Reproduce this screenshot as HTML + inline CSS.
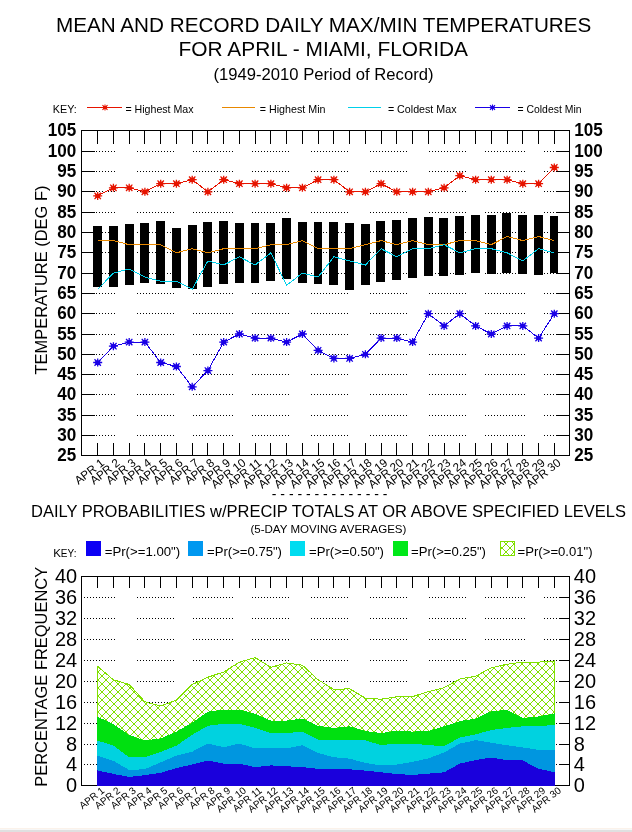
<!DOCTYPE html>
<html><head><meta charset="utf-8"><title>Miami April Temperatures</title>
<style>
html,body{margin:0;padding:0;background:#fff;}
body{width:632px;height:832px;overflow:hidden;}
svg{display:block;font-family:"Liberation Sans",Arial,sans-serif;fill:#000;}
.cr{shape-rendering:crispEdges;}
.b{font-weight:bold;}
</style></head><body>
<svg width="632" height="832" viewBox="0 0 632 832">
<defs>
<pattern id="hatch" width="8" height="8" patternUnits="userSpaceOnUse" x="97" y="671">
<path class="cr" d="M0 0h1v1h-1zM1 1h1v1h-1zM2 2h1v1h-1zM3 3h1v1h-1zM4 4h1v1h-1zM5 5h1v1h-1zM6 6h1v1h-1zM7 7h1v1h-1zM1 0h1v1h-1zM0 1h1v1h-1zM7 2h1v1h-1zM6 3h1v1h-1zM5 4h1v1h-1zM4 5h1v1h-1zM3 6h1v1h-1zM2 7h1v1h-1z" fill="#80e000"/>
</pattern>
<g id="mr"><path d="M-4.5 0H4.5M0 -4V4M-3.2 -3.2L3.2 3.2M-3.2 3.2L3.2 -3.2" stroke="#e61400" stroke-width="1.3" fill="none"/><rect x="-2.5" y="-2" width="5" height="4" fill="#e61400"/></g>
<g id="mb"><path d="M-4.5 0H4.5M0 -4V4M-3.2 -3.2L3.2 3.2M-3.2 3.2L3.2 -3.2" stroke="#1a00e6" stroke-width="1.3" fill="none"/><rect x="-2.5" y="-2" width="5" height="4" fill="#1a00e6"/></g>
</defs>
<rect width="632" height="832" fill="#fff"/>

<text x="323.65" y="31.7" font-size="20.7" text-anchor="middle" textLength="535.5" lengthAdjust="spacingAndGlyphs">MEAN AND RECORD DAILY MAX/MIN TEMPERATURES</text>
<text x="323.3" y="56" font-size="20.7" text-anchor="middle" textLength="289.5" lengthAdjust="spacingAndGlyphs">FOR APRIL - MIAMI, FLORIDA</text>
<text x="323.5" y="80" font-size="16.5" text-anchor="middle" textLength="220" lengthAdjust="spacingAndGlyphs">(1949-2010 Period of Record)</text>
<text x="52.8" y="113" font-size="11" text-anchor="start" textLength="24" lengthAdjust="spacingAndGlyphs">KEY:</text>
<path class="cr" d="M87 107.5H122" stroke="#e61400" fill="none"/><use href="#mr" transform="translate(105 107.5) scale(.8 .75)"/>
<text x="125.4" y="113" font-size="11" text-anchor="start" textLength="68.2" lengthAdjust="spacingAndGlyphs">= Highest Max</text>
<path class="cr" d="M221.5 107.5H254.5" stroke="#e88800" fill="none"/>
<text x="259.7" y="113" font-size="11" text-anchor="start" textLength="65.8" lengthAdjust="spacingAndGlyphs">= Highest Min</text>
<path class="cr" d="M347.5 107.5H381" stroke="#00d0ea" fill="none"/>
<text x="387.9" y="113" font-size="11" text-anchor="start" textLength="68.6" lengthAdjust="spacingAndGlyphs">= Coldest Max</text>
<path class="cr" d="M475 107.5H510" stroke="#1a00e6" fill="none"/><use href="#mb" transform="translate(492.5 107.5) scale(.8 .75)"/>
<text x="517.5" y="113" font-size="11" text-anchor="start" textLength="64" lengthAdjust="spacingAndGlyphs">= Coldest Min</text>
<path class="cr" d="M96 435.5H115M137 435.5H174M193 435.5H233M252 435.5H290M311 435.5H349M370 435.5H408M429 435.5H467M485 435.5H526M544 435.5H556" stroke="#000" stroke-dasharray="1 2" fill="none"/>
<path class="cr" d="M81.5 435.5H95M556 435.5H569.5" stroke="#000" fill="none"/>
<path class="cr" d="M96 415.5H115M137 415.5H174M193 415.5H233M252 415.5H290M311 415.5H349M370 415.5H408M429 415.5H467M485 415.5H526M544 415.5H556" stroke="#000" stroke-dasharray="1 2" fill="none"/>
<path class="cr" d="M81.5 415.5H95M556 415.5H569.5" stroke="#000" fill="none"/>
<path class="cr" d="M96 394.5H115M137 394.5H174M193 394.5H233M252 394.5H290M311 394.5H349M370 394.5H408M429 394.5H467M485 394.5H526M544 394.5H556" stroke="#000" stroke-dasharray="1 2" fill="none"/>
<path class="cr" d="M81.5 394.5H95M556 394.5H569.5" stroke="#000" fill="none"/>
<path class="cr" d="M96 374.5H115M137 374.5H174M193 374.5H233M252 374.5H290M311 374.5H349M370 374.5H408M429 374.5H467M485 374.5H526M544 374.5H556" stroke="#000" stroke-dasharray="1 2" fill="none"/>
<path class="cr" d="M81.5 374.5H95M556 374.5H569.5" stroke="#000" fill="none"/>
<path class="cr" d="M96 354.5H115M137 354.5H174M193 354.5H233M252 354.5H290M311 354.5H349M370 354.5H408M429 354.5H467M485 354.5H526M544 354.5H556" stroke="#000" stroke-dasharray="1 2" fill="none"/>
<path class="cr" d="M81.5 354.5H95M556 354.5H569.5" stroke="#000" fill="none"/>
<path class="cr" d="M96 334.5H115M137 334.5H174M193 334.5H233M252 334.5H290M311 334.5H349M370 334.5H408M429 334.5H467M485 334.5H526M544 334.5H556" stroke="#000" stroke-dasharray="1 2" fill="none"/>
<path class="cr" d="M81.5 334.5H95M556 334.5H569.5" stroke="#000" fill="none"/>
<path class="cr" d="M96 313.5H115M137 313.5H174M193 313.5H233M252 313.5H290M311 313.5H349M370 313.5H408M429 313.5H467M485 313.5H526M544 313.5H556" stroke="#000" stroke-dasharray="1 2" fill="none"/>
<path class="cr" d="M81.5 313.5H95M556 313.5H569.5" stroke="#000" fill="none"/>
<path class="cr" d="M96 293.5H115M137 293.5H174M193 293.5H233M252 293.5H290M311 293.5H349M370 293.5H408M429 293.5H467M485 293.5H526M544 293.5H556" stroke="#000" stroke-dasharray="1 2" fill="none"/>
<path class="cr" d="M81.5 293.5H95M556 293.5H569.5" stroke="#000" fill="none"/>
<path class="cr" d="M96 273.5H115M137 273.5H174M193 273.5H233M252 273.5H290M311 273.5H349M370 273.5H408M429 273.5H467M485 273.5H526M544 273.5H556" stroke="#000" stroke-dasharray="1 2" fill="none"/>
<path class="cr" d="M81.5 273.5H95M556 273.5H569.5" stroke="#000" fill="none"/>
<path class="cr" d="M96 252.5H115M137 252.5H174M193 252.5H233M252 252.5H290M311 252.5H349M370 252.5H408M429 252.5H467M485 252.5H526M544 252.5H556" stroke="#000" stroke-dasharray="1 2" fill="none"/>
<path class="cr" d="M81.5 252.5H95M556 252.5H569.5" stroke="#000" fill="none"/>
<path class="cr" d="M96 232.5H115M137 232.5H174M193 232.5H233M252 232.5H290M311 232.5H349M370 232.5H408M429 232.5H467M485 232.5H526M544 232.5H556" stroke="#000" stroke-dasharray="1 2" fill="none"/>
<path class="cr" d="M81.5 232.5H95M556 232.5H569.5" stroke="#000" fill="none"/>
<path class="cr" d="M96 212.5H115M137 212.5H174M193 212.5H233M252 212.5H290M311 212.5H349M370 212.5H408M429 212.5H467M485 212.5H526M544 212.5H556" stroke="#000" stroke-dasharray="1 2" fill="none"/>
<path class="cr" d="M81.5 212.5H95M556 212.5H569.5" stroke="#000" fill="none"/>
<path class="cr" d="M96 191.5H115M137 191.5H174M193 191.5H233M252 191.5H290M311 191.5H349M370 191.5H408M429 191.5H467M485 191.5H526M544 191.5H556" stroke="#000" stroke-dasharray="1 2" fill="none"/>
<path class="cr" d="M81.5 191.5H95M556 191.5H569.5" stroke="#000" fill="none"/>
<path class="cr" d="M96 171.5H115M137 171.5H174M193 171.5H233M252 171.5H290M311 171.5H349M370 171.5H408M429 171.5H467M485 171.5H526M544 171.5H556" stroke="#000" stroke-dasharray="1 2" fill="none"/>
<path class="cr" d="M81.5 171.5H95M556 171.5H569.5" stroke="#000" fill="none"/>
<path class="cr" d="M96 151.5H115M137 151.5H174M193 151.5H233M252 151.5H290M311 151.5H349M370 151.5H408M429 151.5H467M485 151.5H526M544 151.5H556" stroke="#000" stroke-dasharray="1 2" fill="none"/>
<path class="cr" d="M81.5 151.5H95M556 151.5H569.5" stroke="#000" fill="none"/>
<rect class="cr" x="93" y="226" width="9" height="61" fill="#000"/>
<rect class="cr" x="109" y="226" width="9" height="61" fill="#000"/>
<rect class="cr" x="125" y="224" width="9" height="61" fill="#000"/>
<rect class="cr" x="140" y="223" width="9" height="60" fill="#000"/>
<rect class="cr" x="156" y="221" width="9" height="63" fill="#000"/>
<rect class="cr" x="172" y="228" width="9" height="60" fill="#000"/>
<rect class="cr" x="188" y="225" width="9" height="64" fill="#000"/>
<rect class="cr" x="203" y="222" width="9" height="65" fill="#000"/>
<rect class="cr" x="219" y="221" width="9" height="63" fill="#000"/>
<rect class="cr" x="235" y="223" width="9" height="60" fill="#000"/>
<rect class="cr" x="251" y="223" width="8" height="60" fill="#000"/>
<rect class="cr" x="266" y="223" width="9" height="58" fill="#000"/>
<rect class="cr" x="282" y="218" width="9" height="61" fill="#000"/>
<rect class="cr" x="298" y="222" width="9" height="61" fill="#000"/>
<rect class="cr" x="314" y="222" width="8" height="62" fill="#000"/>
<rect class="cr" x="329" y="222" width="9" height="63" fill="#000"/>
<rect class="cr" x="345" y="223" width="9" height="67" fill="#000"/>
<rect class="cr" x="361" y="224" width="9" height="61" fill="#000"/>
<rect class="cr" x="376" y="221" width="9" height="61" fill="#000"/>
<rect class="cr" x="392" y="220" width="9" height="60" fill="#000"/>
<rect class="cr" x="408" y="218" width="9" height="60" fill="#000"/>
<rect class="cr" x="424" y="217" width="9" height="59" fill="#000"/>
<rect class="cr" x="439" y="218" width="9" height="58" fill="#000"/>
<rect class="cr" x="455" y="216" width="9" height="59" fill="#000"/>
<rect class="cr" x="471" y="215" width="9" height="58" fill="#000"/>
<rect class="cr" x="487" y="215" width="9" height="59" fill="#000"/>
<rect class="cr" x="502" y="213" width="9" height="60" fill="#000"/>
<rect class="cr" x="518" y="215" width="9" height="59" fill="#000"/>
<rect class="cr" x="534" y="215" width="9" height="60" fill="#000"/>
<rect class="cr" x="550" y="216" width="8" height="57" fill="#000"/>
<polyline class="cr" points="97.7,240.6 113.4,240.6 129.2,244.7 144.9,244.7 160.7,244.7 176.4,252.8 192.2,248.7 207.9,252.8 223.7,248.7 239.4,248.7 255.1,248.7 270.9,244.7 286.6,244.7 302.4,240.6 318.1,248.7 333.9,248.7 349.6,248.7 365.4,244.7 381.1,240.6 396.8,244.7 412.6,240.6 428.3,244.7 444.1,244.7 459.8,240.6 475.6,240.6 491.3,244.7 507.1,236.5 522.8,240.6 538.6,236.5 554.3,240.6" stroke="#e88800" stroke-width="1" fill="none"/>
<polyline class="cr" points="97.7,289.3 113.4,273.1 129.2,269.0 144.9,277.1 160.7,281.2 176.4,281.2 192.2,289.3 207.9,260.9 223.7,265.0 239.4,256.8 255.1,265.0 270.9,252.8 286.6,285.3 302.4,273.1 318.1,277.1 333.9,256.8 349.6,260.9 365.4,265.0 381.1,248.7 396.8,256.8 412.6,248.7 428.3,248.7 444.1,244.7 459.8,252.8 475.6,248.7 491.3,248.7 507.1,252.8 522.8,260.9 538.6,248.7 554.3,252.8" stroke="#00d0ea" stroke-width="1" fill="none"/>
<polyline class="cr" points="97.7,195.9 113.4,187.8 129.2,187.8 144.9,191.8 160.7,183.7 176.4,183.7 192.2,179.7 207.9,191.8 223.7,179.7 239.4,183.7 255.1,183.7 270.9,183.7 286.6,187.8 302.4,187.8 318.1,179.7 333.9,179.7 349.6,191.8 365.4,191.8 381.1,183.7 396.8,191.8 412.6,191.8 428.3,191.8 444.1,187.8 459.8,175.6 475.6,179.7 491.3,179.7 507.1,179.7 522.8,183.7 538.6,183.7 554.3,167.5" stroke="#e61400" stroke-width="1" fill="none"/>
<polyline class="cr" points="97.7,362.5 113.4,346.2 129.2,342.1 144.9,342.1 160.7,362.5 176.4,366.5 192.2,386.8 207.9,370.6 223.7,342.1 239.4,334.0 255.1,338.1 270.9,338.1 286.6,342.1 302.4,334.0 318.1,350.3 333.9,358.4 349.6,358.4 365.4,354.3 381.1,338.1 396.8,338.1 412.6,342.1 428.3,313.7 444.1,325.9 459.8,313.7 475.6,325.9 491.3,334.0 507.1,325.9 522.8,325.9 538.6,338.1 554.3,313.7" stroke="#1a00e6" stroke-width="1" fill="none"/>
<use href="#mr" x="97.7" y="195.9"/>
<use href="#mr" x="113.4" y="187.8"/>
<use href="#mr" x="129.2" y="187.8"/>
<use href="#mr" x="144.9" y="191.8"/>
<use href="#mr" x="160.7" y="183.7"/>
<use href="#mr" x="176.4" y="183.7"/>
<use href="#mr" x="192.2" y="179.7"/>
<use href="#mr" x="207.9" y="191.8"/>
<use href="#mr" x="223.7" y="179.7"/>
<use href="#mr" x="239.4" y="183.7"/>
<use href="#mr" x="255.1" y="183.7"/>
<use href="#mr" x="270.9" y="183.7"/>
<use href="#mr" x="286.6" y="187.8"/>
<use href="#mr" x="302.4" y="187.8"/>
<use href="#mr" x="318.1" y="179.7"/>
<use href="#mr" x="333.9" y="179.7"/>
<use href="#mr" x="349.6" y="191.8"/>
<use href="#mr" x="365.4" y="191.8"/>
<use href="#mr" x="381.1" y="183.7"/>
<use href="#mr" x="396.8" y="191.8"/>
<use href="#mr" x="412.6" y="191.8"/>
<use href="#mr" x="428.3" y="191.8"/>
<use href="#mr" x="444.1" y="187.8"/>
<use href="#mr" x="459.8" y="175.6"/>
<use href="#mr" x="475.6" y="179.7"/>
<use href="#mr" x="491.3" y="179.7"/>
<use href="#mr" x="507.1" y="179.7"/>
<use href="#mr" x="522.8" y="183.7"/>
<use href="#mr" x="538.6" y="183.7"/>
<use href="#mr" x="554.3" y="167.5"/>
<use href="#mb" x="97.7" y="362.5"/>
<use href="#mb" x="113.4" y="346.2"/>
<use href="#mb" x="129.2" y="342.1"/>
<use href="#mb" x="144.9" y="342.1"/>
<use href="#mb" x="160.7" y="362.5"/>
<use href="#mb" x="176.4" y="366.5"/>
<use href="#mb" x="192.2" y="386.8"/>
<use href="#mb" x="207.9" y="370.6"/>
<use href="#mb" x="223.7" y="342.1"/>
<use href="#mb" x="239.4" y="334.0"/>
<use href="#mb" x="255.1" y="338.1"/>
<use href="#mb" x="270.9" y="338.1"/>
<use href="#mb" x="286.6" y="342.1"/>
<use href="#mb" x="302.4" y="334.0"/>
<use href="#mb" x="318.1" y="350.3"/>
<use href="#mb" x="333.9" y="358.4"/>
<use href="#mb" x="349.6" y="358.4"/>
<use href="#mb" x="365.4" y="354.3"/>
<use href="#mb" x="381.1" y="338.1"/>
<use href="#mb" x="396.8" y="338.1"/>
<use href="#mb" x="412.6" y="342.1"/>
<use href="#mb" x="428.3" y="313.7"/>
<use href="#mb" x="444.1" y="325.9"/>
<use href="#mb" x="459.8" y="313.7"/>
<use href="#mb" x="475.6" y="325.9"/>
<use href="#mb" x="491.3" y="334.0"/>
<use href="#mb" x="507.1" y="325.9"/>
<use href="#mb" x="522.8" y="325.9"/>
<use href="#mb" x="538.6" y="338.1"/>
<use href="#mb" x="554.3" y="313.7"/>
<rect class="cr" x="81.5" y="130.5" width="488.0" height="325.0" fill="none" stroke="#000"/>
<path class="cr" d="M97.5 130.5V143.5M97.5 455.5V442.5M113.5 130.5V143.5M113.5 455.5V442.5M129.5 130.5V143.5M129.5 455.5V442.5M144.5 130.5V143.5M144.5 455.5V442.5M160.5 130.5V143.5M160.5 455.5V442.5M176.5 130.5V143.5M176.5 455.5V442.5M192.5 130.5V143.5M192.5 455.5V442.5M207.5 130.5V143.5M207.5 455.5V442.5M223.5 130.5V143.5M223.5 455.5V442.5M239.5 130.5V143.5M239.5 455.5V442.5M255.5 130.5V143.5M255.5 455.5V442.5M270.5 130.5V143.5M270.5 455.5V442.5M286.5 130.5V143.5M286.5 455.5V442.5M302.5 130.5V143.5M302.5 455.5V442.5M318.5 130.5V143.5M318.5 455.5V442.5M333.5 130.5V143.5M333.5 455.5V442.5M349.5 130.5V143.5M349.5 455.5V442.5M365.5 130.5V143.5M365.5 455.5V442.5M381.5 130.5V143.5M381.5 455.5V442.5M396.5 130.5V143.5M396.5 455.5V442.5M412.5 130.5V143.5M412.5 455.5V442.5M428.5 130.5V143.5M428.5 455.5V442.5M444.5 130.5V143.5M444.5 455.5V442.5M459.5 130.5V143.5M459.5 455.5V442.5M475.5 130.5V143.5M475.5 455.5V442.5M491.5 130.5V143.5M491.5 455.5V442.5M507.5 130.5V143.5M507.5 455.5V442.5M522.5 130.5V143.5M522.5 455.5V442.5M538.5 130.5V143.5M538.5 455.5V442.5M554.5 130.5V143.5M554.5 455.5V442.5" stroke="#000" fill="none"/>
<text x="76.3" y="460.5" font-size="17.6" text-anchor="end" class="b" textLength="19.0" lengthAdjust="spacingAndGlyphs">25</text>
<text x="574.3" y="460.5" font-size="17.6" text-anchor="start" class="b" textLength="19.0" lengthAdjust="spacingAndGlyphs">25</text>
<text x="76.3" y="440.5" font-size="17.6" text-anchor="end" class="b" textLength="19.0" lengthAdjust="spacingAndGlyphs">30</text>
<text x="574.3" y="440.5" font-size="17.6" text-anchor="start" class="b" textLength="19.0" lengthAdjust="spacingAndGlyphs">30</text>
<text x="76.3" y="420.5" font-size="17.6" text-anchor="end" class="b" textLength="19.0" lengthAdjust="spacingAndGlyphs">35</text>
<text x="574.3" y="420.5" font-size="17.6" text-anchor="start" class="b" textLength="19.0" lengthAdjust="spacingAndGlyphs">35</text>
<text x="76.3" y="399.5" font-size="17.6" text-anchor="end" class="b" textLength="19.0" lengthAdjust="spacingAndGlyphs">40</text>
<text x="574.3" y="399.5" font-size="17.6" text-anchor="start" class="b" textLength="19.0" lengthAdjust="spacingAndGlyphs">40</text>
<text x="76.3" y="379.5" font-size="17.6" text-anchor="end" class="b" textLength="19.0" lengthAdjust="spacingAndGlyphs">45</text>
<text x="574.3" y="379.5" font-size="17.6" text-anchor="start" class="b" textLength="19.0" lengthAdjust="spacingAndGlyphs">45</text>
<text x="76.3" y="359.5" font-size="17.6" text-anchor="end" class="b" textLength="19.0" lengthAdjust="spacingAndGlyphs">50</text>
<text x="574.3" y="359.5" font-size="17.6" text-anchor="start" class="b" textLength="19.0" lengthAdjust="spacingAndGlyphs">50</text>
<text x="76.3" y="339.5" font-size="17.6" text-anchor="end" class="b" textLength="19.0" lengthAdjust="spacingAndGlyphs">55</text>
<text x="574.3" y="339.5" font-size="17.6" text-anchor="start" class="b" textLength="19.0" lengthAdjust="spacingAndGlyphs">55</text>
<text x="76.3" y="318.5" font-size="17.6" text-anchor="end" class="b" textLength="19.0" lengthAdjust="spacingAndGlyphs">60</text>
<text x="574.3" y="318.5" font-size="17.6" text-anchor="start" class="b" textLength="19.0" lengthAdjust="spacingAndGlyphs">60</text>
<text x="76.3" y="298.5" font-size="17.6" text-anchor="end" class="b" textLength="19.0" lengthAdjust="spacingAndGlyphs">65</text>
<text x="574.3" y="298.5" font-size="17.6" text-anchor="start" class="b" textLength="19.0" lengthAdjust="spacingAndGlyphs">65</text>
<text x="76.3" y="278.5" font-size="17.6" text-anchor="end" class="b" textLength="19.0" lengthAdjust="spacingAndGlyphs">70</text>
<text x="574.3" y="278.5" font-size="17.6" text-anchor="start" class="b" textLength="19.0" lengthAdjust="spacingAndGlyphs">70</text>
<text x="76.3" y="257.5" font-size="17.6" text-anchor="end" class="b" textLength="19.0" lengthAdjust="spacingAndGlyphs">75</text>
<text x="574.3" y="257.5" font-size="17.6" text-anchor="start" class="b" textLength="19.0" lengthAdjust="spacingAndGlyphs">75</text>
<text x="76.3" y="237.5" font-size="17.6" text-anchor="end" class="b" textLength="19.0" lengthAdjust="spacingAndGlyphs">80</text>
<text x="574.3" y="237.5" font-size="17.6" text-anchor="start" class="b" textLength="19.0" lengthAdjust="spacingAndGlyphs">80</text>
<text x="76.3" y="217.5" font-size="17.6" text-anchor="end" class="b" textLength="19.0" lengthAdjust="spacingAndGlyphs">85</text>
<text x="574.3" y="217.5" font-size="17.6" text-anchor="start" class="b" textLength="19.0" lengthAdjust="spacingAndGlyphs">85</text>
<text x="76.3" y="196.5" font-size="17.6" text-anchor="end" class="b" textLength="19.0" lengthAdjust="spacingAndGlyphs">90</text>
<text x="574.3" y="196.5" font-size="17.6" text-anchor="start" class="b" textLength="19.0" lengthAdjust="spacingAndGlyphs">90</text>
<text x="76.3" y="176.5" font-size="17.6" text-anchor="end" class="b" textLength="19.0" lengthAdjust="spacingAndGlyphs">95</text>
<text x="574.3" y="176.5" font-size="17.6" text-anchor="start" class="b" textLength="19.0" lengthAdjust="spacingAndGlyphs">95</text>
<text x="76.3" y="156.5" font-size="17.6" text-anchor="end" class="b" textLength="28.5" lengthAdjust="spacingAndGlyphs">100</text>
<text x="574.3" y="156.5" font-size="17.6" text-anchor="start" class="b" textLength="28.5" lengthAdjust="spacingAndGlyphs">100</text>
<text x="76.3" y="135.5" font-size="17.6" text-anchor="end" class="b" textLength="28.5" lengthAdjust="spacingAndGlyphs">105</text>
<text x="574.3" y="135.5" font-size="17.6" text-anchor="start" class="b" textLength="28.5" lengthAdjust="spacingAndGlyphs">105</text>
<text transform="translate(46.8 374.5) rotate(-90)" font-size="16.5" textLength="189" lengthAdjust="spacingAndGlyphs">TEMPERATURE (DEG F)</text>
<text transform="translate(105.0 464.3) rotate(-38)" font-size="11.7" text-anchor="end">APR 1</text>
<text transform="translate(120.7 464.3) rotate(-38)" font-size="11.7" text-anchor="end">APR 2</text>
<text transform="translate(136.5 464.3) rotate(-38)" font-size="11.7" text-anchor="end">APR 3</text>
<text transform="translate(152.2 464.3) rotate(-38)" font-size="11.7" text-anchor="end">APR 4</text>
<text transform="translate(168.0 464.3) rotate(-38)" font-size="11.7" text-anchor="end">APR 5</text>
<text transform="translate(183.7 464.3) rotate(-38)" font-size="11.7" text-anchor="end">APR 6</text>
<text transform="translate(199.5 464.3) rotate(-38)" font-size="11.7" text-anchor="end">APR 7</text>
<text transform="translate(215.2 464.3) rotate(-38)" font-size="11.7" text-anchor="end">APR 8</text>
<text transform="translate(231.0 464.3) rotate(-38)" font-size="11.7" text-anchor="end">APR 9</text>
<text transform="translate(246.7 464.3) rotate(-38)" font-size="11.7" text-anchor="end">APR 10</text>
<text transform="translate(262.4 464.3) rotate(-38)" font-size="11.7" text-anchor="end">APR 11</text>
<text transform="translate(278.2 464.3) rotate(-38)" font-size="11.7" text-anchor="end">APR 12</text>
<text transform="translate(293.9 464.3) rotate(-38)" font-size="11.7" text-anchor="end">APR 13</text>
<text transform="translate(309.7 464.3) rotate(-38)" font-size="11.7" text-anchor="end">APR 14</text>
<text transform="translate(325.4 464.3) rotate(-38)" font-size="11.7" text-anchor="end">APR 15</text>
<text transform="translate(341.2 464.3) rotate(-38)" font-size="11.7" text-anchor="end">APR 16</text>
<text transform="translate(356.9 464.3) rotate(-38)" font-size="11.7" text-anchor="end">APR 17</text>
<text transform="translate(372.7 464.3) rotate(-38)" font-size="11.7" text-anchor="end">APR 18</text>
<text transform="translate(388.4 464.3) rotate(-38)" font-size="11.7" text-anchor="end">APR 19</text>
<text transform="translate(404.1 464.3) rotate(-38)" font-size="11.7" text-anchor="end">APR 20</text>
<text transform="translate(419.9 464.3) rotate(-38)" font-size="11.7" text-anchor="end">APR 21</text>
<text transform="translate(435.6 464.3) rotate(-38)" font-size="11.7" text-anchor="end">APR 22</text>
<text transform="translate(451.4 464.3) rotate(-38)" font-size="11.7" text-anchor="end">APR 23</text>
<text transform="translate(467.1 464.3) rotate(-38)" font-size="11.7" text-anchor="end">APR 24</text>
<text transform="translate(482.9 464.3) rotate(-38)" font-size="11.7" text-anchor="end">APR 25</text>
<text transform="translate(498.6 464.3) rotate(-38)" font-size="11.7" text-anchor="end">APR 26</text>
<text transform="translate(514.4 464.3) rotate(-38)" font-size="11.7" text-anchor="end">APR 27</text>
<text transform="translate(530.1 464.3) rotate(-38)" font-size="11.7" text-anchor="end">APR 28</text>
<text transform="translate(545.9 464.3) rotate(-38)" font-size="11.7" text-anchor="end">APR 29</text>
<text transform="translate(561.6 464.3) rotate(-38)" font-size="11.7" text-anchor="end">APR 30</text>
<text x="329.6" y="498.5" font-size="14" text-anchor="middle" textLength="115.5" lengthAdjust="spacingAndGlyphs">- - - - - - - - - - - - - -</text>
<text x="328.5" y="516.5" font-size="16.5" text-anchor="middle" textLength="595" lengthAdjust="spacingAndGlyphs">DAILY PROBABILITIES w/PRECIP TOTALS AT OR ABOVE SPECIFIED LEVELS</text>
<text x="328.4" y="533.3" font-size="11.8" text-anchor="middle" textLength="156" lengthAdjust="spacingAndGlyphs">(5-DAY MOVING AVERAGES)</text>
<text x="53.2" y="556.5" font-size="11.5" textLength="23.3" lengthAdjust="spacingAndGlyphs">K<tspan font-size="10">EY:</tspan></text>
<rect class="cr" x="86" y="541" width="15" height="15" fill="#0c00f4"/>
<text x="104.7" y="555.9" font-size="13.3" text-anchor="start" textLength="75.5" lengthAdjust="spacingAndGlyphs">=Pr(&gt;=1.00")</text>
<rect class="cr" x="188" y="541" width="15" height="15" fill="#0098f0"/>
<text x="207.0" y="555.9" font-size="13.3" text-anchor="start" textLength="75" lengthAdjust="spacingAndGlyphs">=Pr(&gt;=0.75")</text>
<rect class="cr" x="290" y="541" width="15" height="15" fill="#00dcf0"/>
<text x="309.0" y="555.9" font-size="13.3" text-anchor="start" textLength="75" lengthAdjust="spacingAndGlyphs">=Pr(&gt;=0.50")</text>
<rect class="cr" x="393" y="541" width="15" height="15" fill="#00e818"/>
<text x="411.0" y="555.9" font-size="13.3" text-anchor="start" textLength="75" lengthAdjust="spacingAndGlyphs">=Pr(&gt;=0.25")</text>
<rect class="cr" x="500.5" y="541.5" width="14" height="14" fill="#fff"/><rect class="cr" x="500.5" y="541.5" width="14" height="14" fill="url(#hatch)" stroke="#80e000"/>
<text x="517.6" y="555.9" font-size="13.3" text-anchor="start" textLength="75" lengthAdjust="spacingAndGlyphs">=Pr(&gt;=0.01")</text>
<path class="cr" d="M84 764.5H115M137 764.5H174M193 764.5H233M252 764.5H290M311 764.5H349M370 764.5H408M429 764.5H467M485 764.5H526M544 764.5H559" stroke="#000" stroke-dasharray="1 2" fill="none"/>
<path class="cr" d="M84 744.5H115M137 744.5H174M193 744.5H233M252 744.5H290M311 744.5H349M370 744.5H408M429 744.5H467M485 744.5H526M544 744.5H559" stroke="#000" stroke-dasharray="1 2" fill="none"/>
<path class="cr" d="M84 723.5H115M137 723.5H174M193 723.5H233M252 723.5H290M311 723.5H349M370 723.5H408M429 723.5H467M485 723.5H526M544 723.5H559" stroke="#000" stroke-dasharray="1 2" fill="none"/>
<path class="cr" d="M84 702.5H115M137 702.5H174M193 702.5H233M252 702.5H290M311 702.5H349M370 702.5H408M429 702.5H467M485 702.5H526M544 702.5H559" stroke="#000" stroke-dasharray="1 2" fill="none"/>
<path class="cr" d="M84 681.5H115M137 681.5H174M193 681.5H233M252 681.5H290M311 681.5H349M370 681.5H408M429 681.5H467M485 681.5H526M544 681.5H559" stroke="#000" stroke-dasharray="1 2" fill="none"/>
<path class="cr" d="M84 660.5H115M137 660.5H174M193 660.5H233M252 660.5H290M311 660.5H349M370 660.5H408M429 660.5H467M485 660.5H526M544 660.5H559" stroke="#000" stroke-dasharray="1 2" fill="none"/>
<path class="cr" d="M84 639.5H115M137 639.5H174M193 639.5H233M252 639.5H290M311 639.5H349M370 639.5H408M429 639.5H467M485 639.5H526M544 639.5H559" stroke="#000" stroke-dasharray="1 2" fill="none"/>
<path class="cr" d="M84 618.5H115M137 618.5H174M193 618.5H233M252 618.5H290M311 618.5H349M370 618.5H408M429 618.5H467M485 618.5H526M544 618.5H559" stroke="#000" stroke-dasharray="1 2" fill="none"/>
<path class="cr" d="M84 597.5H115M137 597.5H174M193 597.5H233M252 597.5H290M311 597.5H349M370 597.5H408M429 597.5H467M485 597.5H526M544 597.5H559" stroke="#000" stroke-dasharray="1 2" fill="none"/>
<rect class="cr" x="81.5" y="576.5" width="488.0" height="209.0" fill="none" stroke="#000"/>
<polygon class="cr" points="97.0,786 97.0,666.2 113.4,679.8 129.2,684.5 144.9,701.8 160.7,706.0 176.4,700.2 192.2,684.5 207.9,677.2 223.7,672.0 239.4,662.1 255.1,657.6 270.9,667.3 286.6,662.9 302.4,665.2 318.1,679.8 333.9,689.5 349.6,688.7 365.4,698.1 381.1,699.2 396.8,696.8 412.6,696.6 428.3,691.6 444.1,687.7 459.8,679.0 475.6,676.2 491.3,667.8 507.1,664.2 522.8,662.1 538.6,662.1 555.0,661.0 555.0,786" fill="#fff"/>
<polygon class="cr" points="97.5,785.5 97.5,666.2 113.4,679.8 129.2,684.5 144.9,701.8 160.7,706.0 176.4,700.2 192.2,684.5 207.9,677.2 223.7,672.0 239.4,662.1 255.1,657.6 270.9,667.3 286.6,662.9 302.4,665.2 318.1,679.8 333.9,689.5 349.6,688.7 365.4,698.1 381.1,699.2 396.8,696.8 412.6,696.6 428.3,691.6 444.1,687.7 459.8,679.0 475.6,676.2 491.3,667.8 507.1,664.2 522.8,662.1 538.6,662.1 554.5,661.0 554.5,785.5" fill="url(#hatch)" stroke="#80e000"/>
<polygon class="cr" points="97.0,786 97.0,716.4 113.4,724.2 129.2,735.0 144.9,740.4 160.7,738.4 176.4,731.6 192.2,722.7 207.9,711.7 223.7,709.6 239.4,709.6 255.1,713.8 270.9,720.6 286.6,720.6 302.4,718.5 318.1,725.8 333.9,727.9 349.6,726.3 365.4,731.0 381.1,733.1 396.8,730.5 412.6,731.6 428.3,731.0 444.1,726.3 459.8,721.1 475.6,718.5 491.3,711.2 507.1,709.9 522.8,718.0 538.6,716.4 555.0,713.3 555.0,786" fill="#00e010"/>
<polygon class="cr" points="97.0,786 97.0,740.4 113.4,745.7 129.2,757.2 144.9,757.2 160.7,751.9 176.4,745.7 192.2,734.7 207.9,725.8 223.7,723.7 239.4,723.7 255.1,727.9 270.9,733.1 286.6,733.1 302.4,731.6 318.1,739.6 333.9,740.4 349.6,740.4 365.4,740.4 381.1,745.1 396.8,743.6 412.6,743.6 428.3,745.1 444.1,746.2 459.8,737.5 475.6,734.4 491.3,730.0 507.1,727.9 522.8,726.3 538.6,726.3 555.0,724.8 555.0,786" fill="#00d2e0"/>
<polygon class="cr" points="97.0,786 97.0,755.6 113.4,760.8 129.2,770.0 144.9,769.2 160.7,762.4 176.4,755.6 192.2,751.7 207.9,743.6 223.7,747.2 239.4,743.6 255.1,748.3 270.9,748.3 286.6,748.3 302.4,745.3 318.1,753.1 333.9,757.2 349.6,758.7 365.4,762.9 381.1,765.4 396.8,764.5 412.6,761.9 428.3,758.4 444.1,752.5 459.8,743.6 475.6,740.2 491.3,742.7 507.1,745.3 522.8,747.4 538.6,750.0 555.0,750.0 555.0,786" fill="#0096e0"/>
<polygon class="cr" points="97.0,786 97.0,770.4 113.4,773.9 129.2,777.0 144.9,775.1 160.7,772.8 176.4,768.1 192.2,764.5 207.9,760.5 223.7,763.6 239.4,763.6 255.1,767.1 270.9,765.4 286.6,766.3 302.4,767.1 318.1,768.8 333.9,768.8 349.6,769.3 365.4,770.6 381.1,772.3 396.8,774.1 412.6,774.9 428.3,773.7 444.1,772.3 459.8,763.6 475.6,760.1 491.3,757.5 507.1,760.1 522.8,760.5 538.6,768.8 555.0,772.3 555.0,786" fill="#1a00dc"/>
<path class="cr" d="M97.5 576.5V587.5M113.5 576.5V587.5M129.5 576.5V587.5M144.5 576.5V587.5M160.5 576.5V587.5M176.5 576.5V587.5M192.5 576.5V587.5M207.5 576.5V587.5M223.5 576.5V587.5M239.5 576.5V587.5M255.5 576.5V587.5M270.5 576.5V587.5M286.5 576.5V587.5M302.5 576.5V587.5M318.5 576.5V587.5M333.5 576.5V587.5M349.5 576.5V587.5M365.5 576.5V587.5M381.5 576.5V587.5M396.5 576.5V587.5M412.5 576.5V587.5M428.5 576.5V587.5M444.5 576.5V587.5M459.5 576.5V587.5M475.5 576.5V587.5M491.5 576.5V587.5M507.5 576.5V587.5M522.5 576.5V587.5M538.5 576.5V587.5M554.5 576.5V587.5M559 764.5H569.5M559 744.5H569.5M559 723.5H569.5M559 702.5H569.5M559 681.5H569.5M559 660.5H569.5M559 639.5H569.5M559 618.5H569.5M559 597.5H569.5" stroke="#000" fill="none"/>
<text x="77.2" y="791.7" font-size="20" text-anchor="end" textLength="11.1" lengthAdjust="spacingAndGlyphs">0</text>
<text x="573.8" y="791.7" font-size="20" text-anchor="start" textLength="11.1" lengthAdjust="spacingAndGlyphs">0</text>
<text x="77.2" y="770.7" font-size="20" text-anchor="end" textLength="11.1" lengthAdjust="spacingAndGlyphs">4</text>
<text x="573.8" y="770.7" font-size="20" text-anchor="start" textLength="11.1" lengthAdjust="spacingAndGlyphs">4</text>
<text x="77.2" y="750.7" font-size="20" text-anchor="end" textLength="11.1" lengthAdjust="spacingAndGlyphs">8</text>
<text x="573.8" y="750.7" font-size="20" text-anchor="start" textLength="11.1" lengthAdjust="spacingAndGlyphs">8</text>
<text x="77.2" y="729.7" font-size="20" text-anchor="end" textLength="22.2" lengthAdjust="spacingAndGlyphs">12</text>
<text x="573.8" y="729.7" font-size="20" text-anchor="start" textLength="22.2" lengthAdjust="spacingAndGlyphs">12</text>
<text x="77.2" y="708.7" font-size="20" text-anchor="end" textLength="22.2" lengthAdjust="spacingAndGlyphs">16</text>
<text x="573.8" y="708.7" font-size="20" text-anchor="start" textLength="22.2" lengthAdjust="spacingAndGlyphs">16</text>
<text x="77.2" y="687.7" font-size="20" text-anchor="end" textLength="22.2" lengthAdjust="spacingAndGlyphs">20</text>
<text x="573.8" y="687.7" font-size="20" text-anchor="start" textLength="22.2" lengthAdjust="spacingAndGlyphs">20</text>
<text x="77.2" y="666.7" font-size="20" text-anchor="end" textLength="22.2" lengthAdjust="spacingAndGlyphs">24</text>
<text x="573.8" y="666.7" font-size="20" text-anchor="start" textLength="22.2" lengthAdjust="spacingAndGlyphs">24</text>
<text x="77.2" y="645.7" font-size="20" text-anchor="end" textLength="22.2" lengthAdjust="spacingAndGlyphs">28</text>
<text x="573.8" y="645.7" font-size="20" text-anchor="start" textLength="22.2" lengthAdjust="spacingAndGlyphs">28</text>
<text x="77.2" y="624.7" font-size="20" text-anchor="end" textLength="22.2" lengthAdjust="spacingAndGlyphs">32</text>
<text x="573.8" y="624.7" font-size="20" text-anchor="start" textLength="22.2" lengthAdjust="spacingAndGlyphs">32</text>
<text x="77.2" y="603.7" font-size="20" text-anchor="end" textLength="22.2" lengthAdjust="spacingAndGlyphs">36</text>
<text x="573.8" y="603.7" font-size="20" text-anchor="start" textLength="22.2" lengthAdjust="spacingAndGlyphs">36</text>
<text x="77.2" y="582.7" font-size="20" text-anchor="end" textLength="22.2" lengthAdjust="spacingAndGlyphs">40</text>
<text x="573.8" y="582.7" font-size="20" text-anchor="start" textLength="22.2" lengthAdjust="spacingAndGlyphs">40</text>
<text transform="translate(47 786.8) rotate(-90)" font-size="16.5" textLength="220" lengthAdjust="spacingAndGlyphs">PERCENTAGE FREQUENCY</text>
<text transform="translate(105.2 791.7) rotate(-38)" font-size="10" text-anchor="end">APR 1</text>
<text transform="translate(120.9 791.7) rotate(-38)" font-size="10" text-anchor="end">APR 2</text>
<text transform="translate(136.7 791.7) rotate(-38)" font-size="10" text-anchor="end">APR 3</text>
<text transform="translate(152.4 791.7) rotate(-38)" font-size="10" text-anchor="end">APR 4</text>
<text transform="translate(168.2 791.7) rotate(-38)" font-size="10" text-anchor="end">APR 5</text>
<text transform="translate(183.9 791.7) rotate(-38)" font-size="10" text-anchor="end">APR 6</text>
<text transform="translate(199.7 791.7) rotate(-38)" font-size="10" text-anchor="end">APR 7</text>
<text transform="translate(215.4 791.7) rotate(-38)" font-size="10" text-anchor="end">APR 8</text>
<text transform="translate(231.2 791.7) rotate(-38)" font-size="10" text-anchor="end">APR 9</text>
<text transform="translate(246.9 791.7) rotate(-38)" font-size="10" text-anchor="end">APR 10</text>
<text transform="translate(262.6 791.7) rotate(-38)" font-size="10" text-anchor="end">APR 11</text>
<text transform="translate(278.4 791.7) rotate(-38)" font-size="10" text-anchor="end">APR 12</text>
<text transform="translate(294.1 791.7) rotate(-38)" font-size="10" text-anchor="end">APR 13</text>
<text transform="translate(309.9 791.7) rotate(-38)" font-size="10" text-anchor="end">APR 14</text>
<text transform="translate(325.6 791.7) rotate(-38)" font-size="10" text-anchor="end">APR 15</text>
<text transform="translate(341.4 791.7) rotate(-38)" font-size="10" text-anchor="end">APR 16</text>
<text transform="translate(357.1 791.7) rotate(-38)" font-size="10" text-anchor="end">APR 17</text>
<text transform="translate(372.9 791.7) rotate(-38)" font-size="10" text-anchor="end">APR 18</text>
<text transform="translate(388.6 791.7) rotate(-38)" font-size="10" text-anchor="end">APR 19</text>
<text transform="translate(404.3 791.7) rotate(-38)" font-size="10" text-anchor="end">APR 20</text>
<text transform="translate(420.1 791.7) rotate(-38)" font-size="10" text-anchor="end">APR 21</text>
<text transform="translate(435.8 791.7) rotate(-38)" font-size="10" text-anchor="end">APR 22</text>
<text transform="translate(451.6 791.7) rotate(-38)" font-size="10" text-anchor="end">APR 23</text>
<text transform="translate(467.3 791.7) rotate(-38)" font-size="10" text-anchor="end">APR 24</text>
<text transform="translate(483.1 791.7) rotate(-38)" font-size="10" text-anchor="end">APR 25</text>
<text transform="translate(498.8 791.7) rotate(-38)" font-size="10" text-anchor="end">APR 26</text>
<text transform="translate(514.6 791.7) rotate(-38)" font-size="10" text-anchor="end">APR 27</text>
<text transform="translate(530.3 791.7) rotate(-38)" font-size="10" text-anchor="end">APR 28</text>
<text transform="translate(546.1 791.7) rotate(-38)" font-size="10" text-anchor="end">APR 29</text>
<text transform="translate(561.8 791.7) rotate(-38)" font-size="10" text-anchor="end">APR 30</text>
<rect class="cr" x="0" y="828" width="632" height="1" fill="#fbf2ea"/><rect class="cr" x="0" y="829" width="632" height="1" fill="#f6f6f6"/><rect class="cr" x="0" y="830" width="632" height="2" fill="#e0e0e0"/>
</svg></body></html>
